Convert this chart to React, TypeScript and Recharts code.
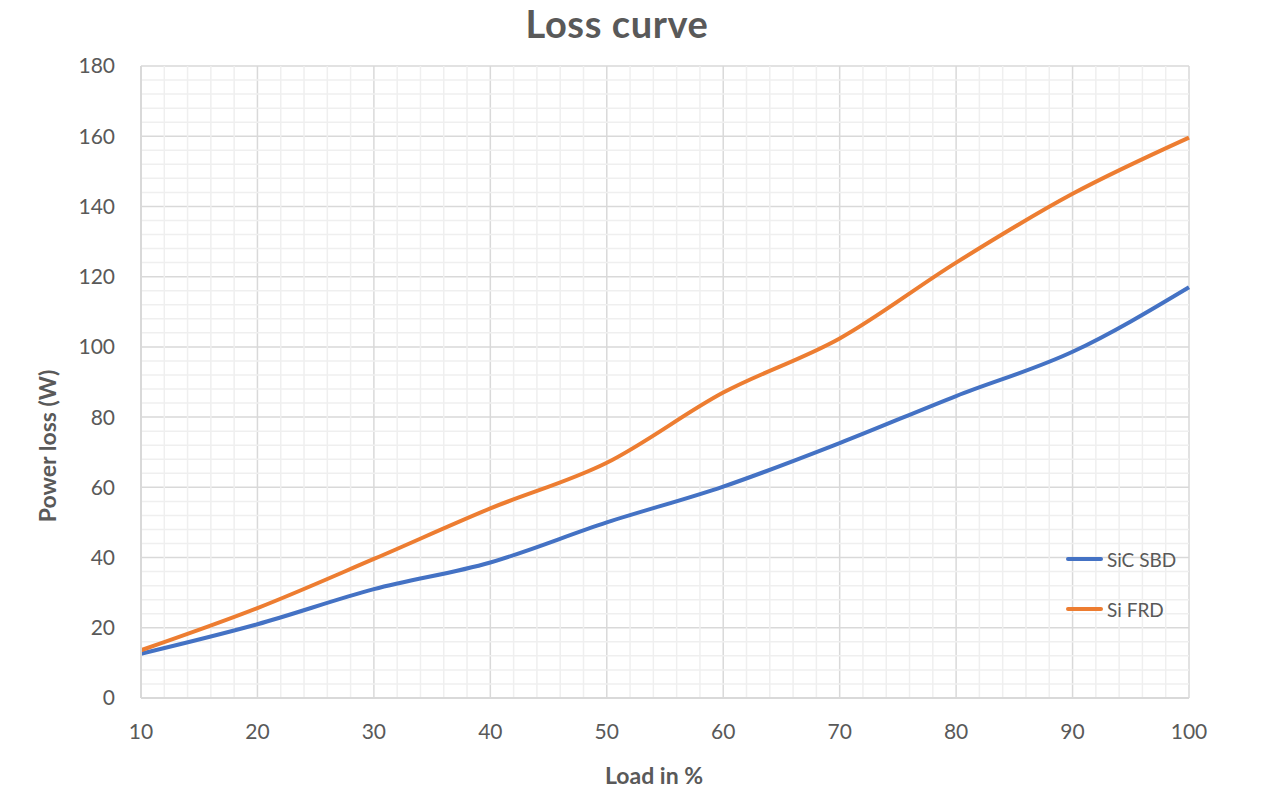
import React from "react";
import { LineChart, Line, XAxis, YAxis, CartesianGrid, ReferenceLine } from "recharts";

const loads = [10, 20, 30, 40, 50, 60, 70, 80, 90, 100];
const sicSbd = [12.6, 21, 31, 38.6, 50, 60.2, 72.6, 86, 98.6, 117];
const siFrd = [13.6, 25.6, 39.6, 54, 67, 87, 102.4, 124, 143.6, 159.6];

const xTicks = [10, 20, 30, 40, 50, 60, 70, 80, 90, 100];
const yTicks = [0, 20, 40, 60, 80, 100, 120, 140, 160, 180];
// minor gridlines between the major ticks
const xMinorTicks = Array.from({ length: 46 }, (_, i) => 10 + i * 2).filter((v) => v % 10 !== 0);
const yMinorTicks = Array.from({ length: 46 }, (_, i) => i * 4).filter((v) => v % 20 !== 0);

const data = loads.map((load, i) => ({ load, sic: sicSbd[i], si: siFrd[i] }));

const FONT = "Lato, 'Open Sans', sans-serif";
const TEXT = "#595959";

const series = [
  { name: "SiC SBD", color: "#4472C4" },
  { name: "Si FRD", color: "#ED7D31" },
];

const LegendBox = () => (
  <div style={{ position: "absolute", left: 1066, top: 547, fontFamily: FONT, fontSize: 19, color: TEXT }}>
    {series.map((s, i) => (
      <div key={s.name} style={{ display: "flex", alignItems: "center", height: 24, marginTop: i ? 26 : 0 }}>
        <span style={{ display: "inline-block", width: 37, height: 4, borderRadius: 2, background: s.color, marginRight: 4 }} />
        {s.name}
      </div>
    ))}
  </div>
);

export default function App() {
  return (
    <div style={{ position: "absolute", left: 0, top: 0, width: 1264, height: 798, background: "#fff" }}>
      <div
        style={{
          position: "absolute",
          left: 467,
          top: 0,
          width: 300,
          textAlign: "center",
          fontFamily: FONT,
          fontWeight: 700,
          fontSize: 38,
          letterSpacing: 0.6,
          color: TEXT,
        }}
      >
        Loss curve
      </div>
      <LineChart width={1264} height={798} data={data} margin={{ top: 66, right: 75, bottom: 20, left: 30 }}>
        {xMinorTicks.map((v) => (
          <ReferenceLine key={"mx" + v} x={v} stroke="#efefef" strokeWidth={1.5} />
        ))}
        {yMinorTicks.map((v) => (
          <ReferenceLine key={"my" + v} y={v} stroke="#efefef" strokeWidth={1.5} />
        ))}
        <CartesianGrid stroke="#d9d9d9" strokeWidth={1.5} />
        <XAxis
          type="number"
          dataKey="load"
          domain={[10, 100]}
          ticks={xTicks}
          height={80}
          tickLine={false}
          axisLine={{ stroke: "#d9d9d9", strokeWidth: 2 }}
          tickMargin={20}
          tick={{ fill: TEXT, fontSize: 21, fontFamily: FONT }}
          label={{
            content: ({ viewBox }: any) => (
              <text
                x={654}
                y={viewBox.y + 77}
                textAnchor="middle"
                dominantBaseline="central"
                fill={TEXT}
                fontFamily={FONT}
                fontWeight={700}
                fontSize={23}
              >
                Load in %
              </text>
            ),
          }}
        />
        <YAxis
          type="number"
          domain={[0, 180]}
          ticks={yTicks}
          width={111}
          tickLine={false}
          axisLine={{ stroke: "#d9d9d9", strokeWidth: 2 }}
          tickMargin={20}
          tick={{ fill: TEXT, fontSize: 21, fontFamily: FONT }}
          label={{
            content: ({ viewBox }: any) => {
              const x = viewBox.x + 17;
              const y = 446;
              return (
                <text
                  x={x}
                  y={y}
                  transform={`rotate(-90 ${x} ${y})`}
                  textAnchor="middle"
                  dominantBaseline="central"
                  fill={TEXT}
                  fontFamily={FONT}
                  fontWeight={700}
                  fontSize={23}
                >
                  Power loss (W)
                </text>
              );
            },
          }}
        />
        <Line type="monotone" dataKey="sic" name="SiC SBD" stroke={series[0].color} strokeWidth={4} dot={false} isAnimationActive={false} />
        <Line type="monotone" dataKey="si" name="Si FRD" stroke={series[1].color} strokeWidth={4} dot={false} isAnimationActive={false} />
      </LineChart>
      <LegendBox />
    </div>
  );
}
